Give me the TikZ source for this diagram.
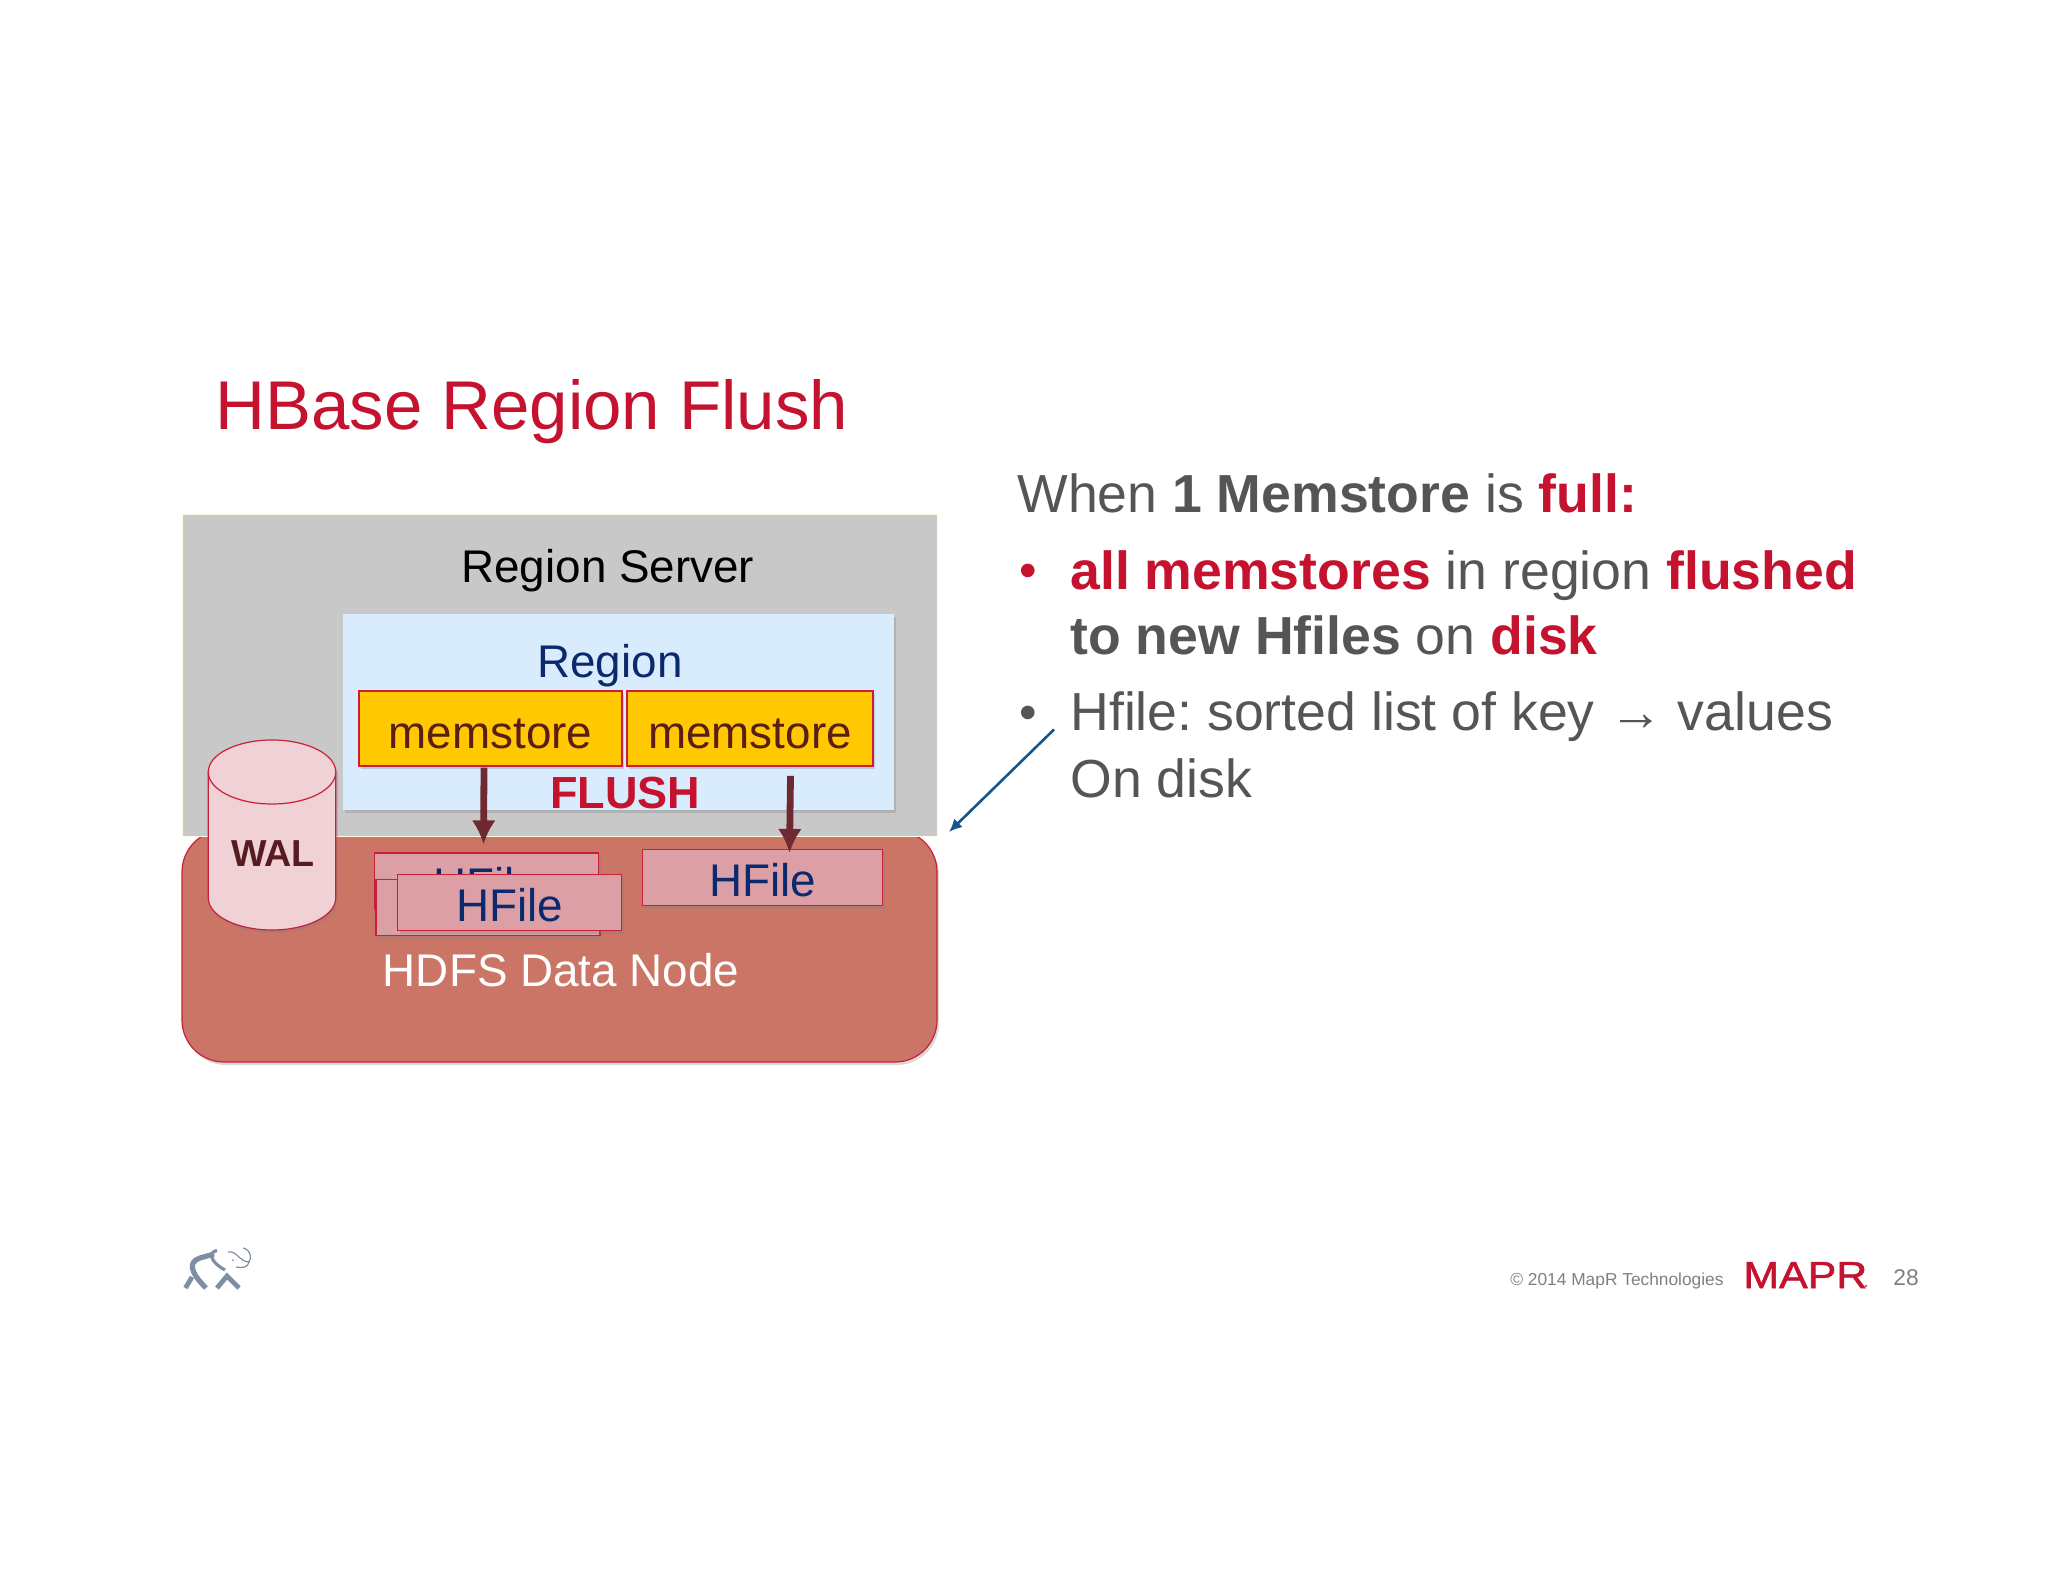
\documentclass[tikz,border=0pt]{standalone}
\usepackage{fontspec}
\setmainfont{Liberation Sans}
\newfontfamily\logofont[FakeBold=1.3]{Liberation Sans}
\usetikzlibrary{shadows,arrows.meta}

\definecolor{hred}{HTML}{C4122F}
\definecolor{hgray}{HTML}{545557}
\definecolor{hnavy}{HTML}{0B2A6E}
\definecolor{hline}{HTML}{C8203A}
\definecolor{hfoot}{HTML}{808080}
\definecolor{hlogo}{HTML}{7F8FA3}
\definecolor{harrow}{HTML}{6E2A30}
\definecolor{hyellow}{HTML}{FFC800}
\definecolor{hpink}{HTML}{DD9FA6}
\definecolor{hnode}{HTML}{CB7566}
\definecolor{hserver}{HTML}{C8C8C8}
\definecolor{hregion}{HTML}{D9ECFD}
\definecolor{hwal}{HTML}{F0D1D5}
\definecolor{hwalt}{HTML}{561C22}
\definecolor{hmemt}{HTML}{5A1E14}
\definecolor{hblue}{HTML}{16558C}
\newcommand{\rb}[1]{\textcolor{hred}{\textbf{#1}}}
\newcommand{\gb}[1]{\textbf{#1}}

\tikzset{
  txt/.style={inner sep=0pt,anchor=base west},
  big/.style={font=\fontsize{22.9}{27}\selectfont},
  side/.style={txt,text=hgray,font=\fontsize{26.8}{32}\selectfont\frenchspacing},
  soft/.style={drop shadow={shadow xshift=1pt,shadow yshift=-1.5pt,opacity=.3}},
  memstore/.style={draw=hline,fill=hyellow,line width=.6pt,inner sep=0pt,soft,big,
    minimum height=37.5pt,text=hmemt,text height=20pt,text depth=0pt},
  hfile/.style={draw=hline,fill=hpink,line width=.6pt,inner sep=0pt,soft,big,text=hnavy,
    minimum width=112pt,minimum height=28pt,text height=19pt,text depth=0pt},
  flushline/.style={-{Latex[length=12pt,width=12pt]},draw=harrow,line width=3.4pt}
}

\begin{document}
\begin{tikzpicture}[x=.5pt,y=-.5pt]
\useasboundingbox (0,0) rectangle (2048,1582);

% data node and server
\draw (559.5,946) node[draw=hline,fill=hnode,line width=.6pt,rounded corners=21pt,
  minimum width=377.5pt,minimum height=116pt,soft] (datanode) {};
\draw (559.5,675.5) node[fill=hserver,draw=black!8!yellow!12!white,line width=.5pt,minimum width=377.5pt,minimum height=161pt,
  inner sep=0pt] (server) {};
\draw (618.5,712) node[fill=hregion,minimum width=275.5pt,minimum height=98pt,
  inner sep=0pt,soft] (region) {};

\draw (461,582.5) node[txt,big,text=black] (servername) {Region Server};
\draw (537,677) node[txt,big,text=hnavy] (regionname) {Region};
\draw (382.5,986) node[txt,big,text=white] (nodename) {HDFS Data Node};

\draw (490.5,728.5) node[memstore,minimum width=131.5pt] (memA) {memstore};
\draw (750,728.5) node[memstore,minimum width=123pt] (memB) {memstore};
\draw (550,808) node[txt,text=hred,font=\fontsize{22.5}{27}\selectfont\bfseries] (flushname) {FLUSH};

% hfiles, back to front
\draw (486.5,881) node[hfile] (hfileA) {HFile};
\draw (488,907.5) node[hfile] (hfileB) {};
\draw (509.5,902.5) node[hfile] (hfileC) {HFile};
\draw (762.5,877.5) node[hfile,minimum width=120pt] (hfileD) {HFile};

% wal drum
\filldraw[draw=hline,fill=hwal,line width=.6pt,soft] (208.25,772) -- (208.25,898)
  .. controls (208.25,915.7) and (236.8,930) .. (272,930)
  .. controls (307.2,930) and (335.75,915.7) .. (335.75,898) -- (335.75,772)
  .. controls (335.75,754.3) and (307.2,740) .. (272,740)
  .. controls (236.8,740) and (208.25,754.3) .. (208.25,772) -- cycle;
\draw[draw=hline,line width=.6pt] (208.25,772) .. controls (208.25,789.7) and (236.8,804) .. (272,804)
  .. controls (307.2,804) and (335.75,789.7) .. (335.75,772);
\draw (231,866) node[txt,text=hwalt,font=\fontsize{18.8}{22}\selectfont\bfseries] (walname) {WAL};

\draw (memA.south -| hfileA.north) ++(-2.5,1) node[coordinate] (flushA) {};
\draw (hfileD.north) ++(28,-73) node[coordinate] (flushB) {};
\draw[flushline,shorten >=4pt] (flushA) -- ([xshift=-1.5pt]hfileA.north);
\draw[flushline] (flushB) -- ([xshift=13.5pt,yshift=-2pt]hfileD.north);

\draw (215,429.5) node[txt,text=hred,font=\fontsize{34.5}{42}\selectfont] (title) {HBase Region Flush};
\draw (1017,513) node[side] (lineA) {When \gb{1 Memstore} is \rb{full:}};
\draw (1070,589.5) node[side] (lineB) {\rb{all memstores} in region \rb{flushed}};
\draw (1070,654.5) node[side] (lineC) {\gb{to new Hfiles} on \rb{disk}};
\draw (1070,730) node[side] (lineD) {Hfile: sorted list of key → values};
\draw (1070,797) node[side] (lineE) {On disk};
\draw (1019,588) node[txt,text=hred,font=\fontsize{25}{30}\selectfont] (bulletA) {•};
\draw (1019,729) node[txt,text=hgray,font=\fontsize{25}{30}\selectfont] (bulletB) {•};

\draw (1054,729.5) node[coordinate] (noteS) {};
\draw (949,832) node[coordinate] (noteE) {};
\draw[-{Latex[length=6.5pt,width=6pt]},draw=hblue,line width=1.3pt] (noteS) -- (noteE);

% footer
\draw (1510,1285) node[txt,text=hfoot,font=\fontsize{8.66}{11}\selectfont] (copyright) {© 2014 MapR Technologies};
\draw (1743,1288) node[txt,text=hred] (maprname) {\scalebox{1.14}[1]{\fontsize{18.8}{22}\logofont MAPR}};
\fill[hline] (1866,1286) circle (1.2);
\draw (1893,1285.5) node[txt,text=hfoot,font=\fontsize{11.4}{14}\selectfont] (pagenum) {28};

% elephant
\draw[hlogo,line width=2.6pt] (206,1288) .. controls (190,1272) and (188,1262) .. (200,1258) -- (214,1254);
\draw[hlogo,line width=1.6pt] (217,1250.5) .. controls (208,1252) and (210,1262) .. (225,1270);
\draw[hlogo,line width=2.4pt] (185.5,1288) -- (192,1277);
\draw[hlogo,line width=2.4pt] (217,1288) -- (227,1276) -- (239,1288);
\draw[hlogo,line width=.6pt] (228,1252) .. controls (236,1250) and (240,1262) .. (249,1262) .. controls (252,1258) and (251,1250) .. (243,1248);
\draw[hlogo,line width=.6pt] (236,1267) .. controls (242,1268) and (248,1268) .. (249,1262);
\fill[hlogo] (233,1260) circle (1);
\end{tikzpicture}
\end{document}
